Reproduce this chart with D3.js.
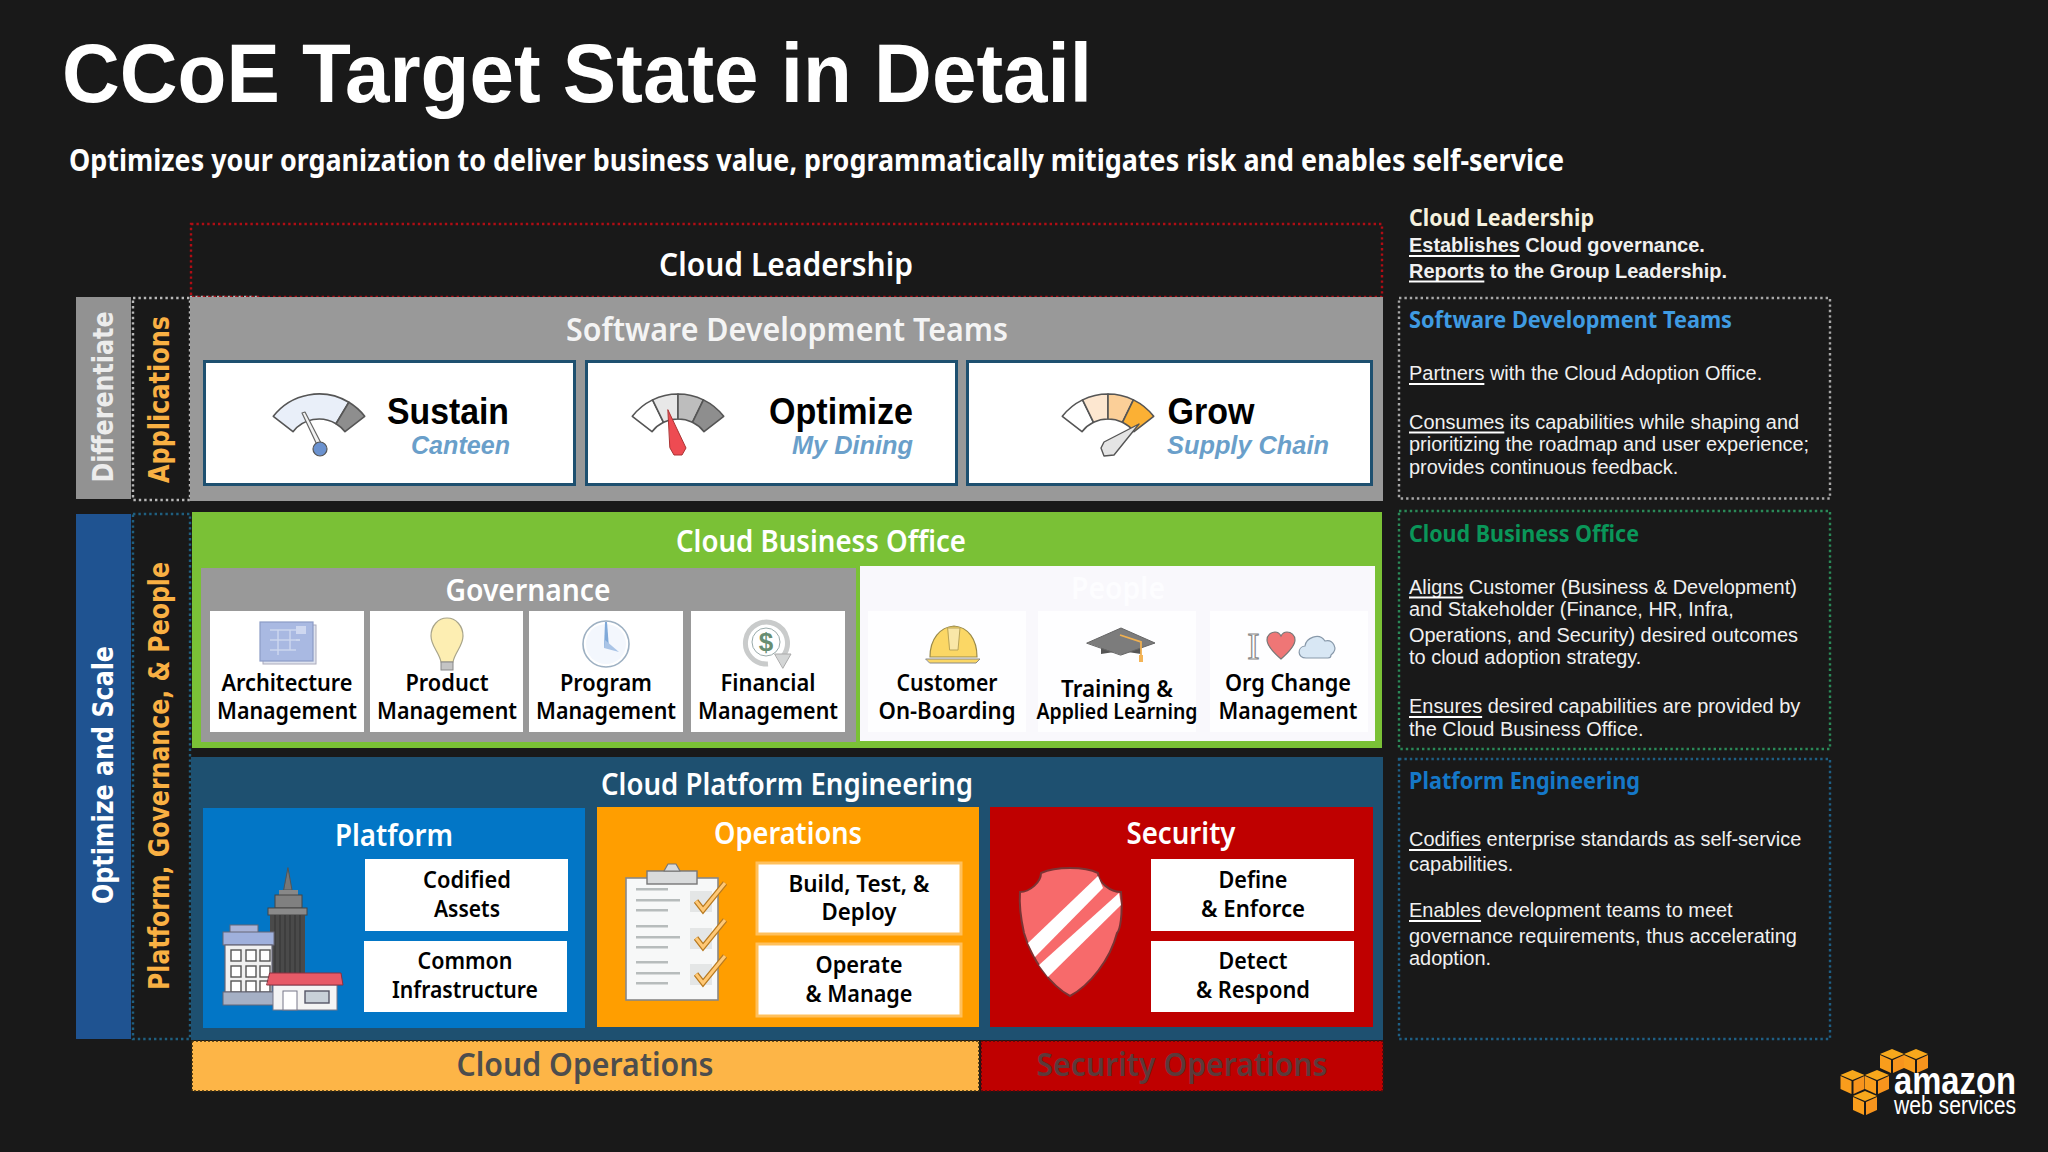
<!DOCTYPE html>
<html><head><meta charset="utf-8">
<script src="https://cdn.jsdelivr.net/npm/d3@7"></script>
<style>html,body{margin:0;padding:0;background:#191919}svg{display:block}</style>
</head><body><svg id="c" width="2048" height="1152"></svg>
<script>
// ---------- content ----------
const titleText = "CCoE Target State in Detail";
const subtitleText = "Optimizes your organization to deliver business value, programmatically mitigates risk and enables self-service";
const sideLabels = ["Differentiate","Applications","Optimize and Scale","Platform, Governance, & People"];
const panelTitles = ["Cloud Leadership","Software Development Teams","Cloud Business Office","Governance","People","Cloud Platform Engineering","Platform","Operations","Security","Cloud Operations","Security Operations"];
const maturity = ["Sustain","Optimize","Grow"];
const maturityApps = ["Canteen","My Dining","Supply Chain"];
const officeCards = [["Architecture","Management"],["Product","Management"],["Program","Management"],["Financial","Management"],["Customer","On-Boarding"],["Training &","Applied Learning"],["Org Change","Management"]];
const platformCards = [["Codified","Assets"],["Common","Infrastructure"],["Build, Test, &","Deploy"],["Operate","& Manage"],["Define","& Enforce"],["Detect","& Respond"]];
const notes = [
 {head:"Cloud Leadership",lines:[["Establishes"," Cloud governance."],["Reports"," to the Group Leadership."]]},
 {head:"Software Development Teams",lines:[["Partners"," with the Cloud Adoption Office."],["Consumes"," its capabilities while shaping and"],["","prioritizing the roadmap and user experience;"],["","provides continuous feedback."]]},
 {head:"Cloud Business Office",lines:[["Aligns"," Customer (Business & Development)"],["","and Stakeholder (Finance, HR, Infra,"],["","Operations, and Security) desired outcomes"],["","to cloud adoption strategy."],["Ensures"," desired capabilities are provided by"],["","the Cloud Business Office."]]},
 {head:"Platform Engineering",lines:[["Codifies"," enterprise standards as self-service"],["","capabilities."],["Enables"," development teams to meet"],["","governance requirements, thus accelerating"],["","adoption."]]}
];
const logoWords = ["amazon","web services"];

// ---------- layout ----------
const HEAD = "'Noto Sans',sans-serif", ARIAL = "'Liberation Sans',Arial,sans-serif", WIDE = "'DejaVu Sans',sans-serif";
const svg = d3.select("#c");
const bg = "#191919";
function rect(x0,y0,x1,y1,fill,o={}){
  return svg.append("rect").attr("x",x0).attr("y",y0).attr("width",x1-x0).attr("height",y1-y0)
    .attr("fill",fill).attr("stroke",o.stroke||"none").attr("stroke-width",o.sw||0).attr("stroke-dasharray",o.dash||null);
}
function dotted(x0,y0,x1,y1,color){
  return rect(x0,y0,x1,y1,"none",{stroke:color,sw:2.4,dash:"2.4 3"});
}
function label(t,x,y,o={}){
  const s = svg.append("text").attr("x",x).attr("y",y).text(t)
    .attr("font-family",o.font||HEAD).attr("font-size",o.size||24).attr("font-weight",o.weight||600)
    .attr("font-style",o.italic?"italic":null).attr("fill",o.fill||"#fff").attr("text-anchor",o.anchor||"middle");
  if(o.w) s.attr("textLength",o.w).attr("lengthAdjust","spacingAndGlyphs");
  if(o.rot) s.attr("transform",`rotate(-90 ${x} ${y})`);
  return s;
}
rect(0,0,2048,1152,bg);
label(titleText,62,102,{font:ARIAL,size:83,weight:700,anchor:"start",w:1030});
label(subtitleText,69,171,{size:29.5,weight:700,anchor:"start",w:1495});

// left bands
const bands = [{y0:297,y1:499,fill:"#929292",dot:"#b8b8b8",dy0:298,dy1:500},{y0:514,y1:1039,fill:"#1f5391",dot:"#1f5f80",dy0:514,dy1:1039}];
svg.selectAll("rect.band").data(bands).enter().append("rect").attr("x",76).attr("y",d=>d.y0).attr("width",55).attr("height",d=>d.y1-d.y0).attr("fill",d=>d.fill);
bands.forEach(b=>dotted(133,b.dy0,190,b.dy1,b.dot));
svg.append("line").attr("x1",190).attr("x2",258).attr("y1",297).attr("y2",297).attr("stroke","#b8b8b8").attr("stroke-width",2.4).attr("stroke-dasharray","2.4 3");
[[112.5,482.5,171,"#ececec"],[169,483,167,"#f9b043"],[112.5,904,258,"#fff"],[169,990,428,"#f9b043"]].forEach((p,i)=>
  label(sideLabels[i],p[0],p[1],{font:WIDE,size:27.5,weight:700,anchor:"start",fill:p[3],w:p[2],rot:true}));

// cloud leadership
dotted(191,224,1382,297,"#b00d14");
label(panelTitles[0],786,276,{size:32,w:254});

// SW dev teams panel
rect(190,297,1383,501,"#999999");
label(panelTitles[1],787,341,{size:32,fill:"#f4f4f4",w:442});
const cards3 = [[203,360,576,486],[585,360,958,486],[966,360,1373,486]];
cards3.forEach(c=>rect(c[0]+1.5,c[1]+1.5,c[2]-1.5,c[3]-1.5,"#fff",{stroke:"#1e5070",sw:3}));
const matLayout=[{x:387,w:122,sx:510,sw:99,anc:"end"},{x:769,w:144,sx:913,sw:121,anc:"end"},{x:1167.5,w:87,sx:1167,sw:162,anc:"start"}];
matLayout.forEach((m,i)=>{
  label(maturity[i],m.x,424,{font:ARIAL,size:36,weight:700,anchor:"start",fill:"#000",w:m.w});
  label(maturityApps[i],m.sx,454,{font:ARIAL,size:25.5,weight:700,italic:true,anchor:m.anc,fill:"#6a9fca",w:m.sw});
});
// gauges
const gaugeSegs=[
 {c:[319,452],segs:[[-52,31,"#e9eff9"],[31,52,"#8e8e8e"]]},
 {c:[678,452],segs:[[-52,-26,"#ffffff"],[-26,0,"#e8e8e8"],[0,26,"#bdbdbd"],[26,52,"#8e8e8e"]]},
 {c:[1108,452],segs:[[-52,-26,"#ffffff"],[-26,0,"#fde7d0"],[0,26,"#fbcf98"],[26,52,"#fbb034"]]}];
const rad=d=>d*Math.PI/180, arc=d3.arc().innerRadius(33).outerRadius(58);
gaugeSegs.forEach(g=>{
  svg.append("g").attr("transform",`translate(${g.c})`).selectAll("path").data(g.segs).enter().append("path")
   .attr("d",d=>arc({startAngle:rad(d[0]),endAngle:rad(d[1])})).attr("fill",d=>d[2]).attr("stroke","#555").attr("stroke-width",1.6).attr("stroke-linejoin","round");
});
const poly=(pts,fill,o={})=>svg.append("path").attr("d",d3.line().curve(o.curve||d3.curveLinearClosed)(pts)).attr("fill",fill).attr("stroke",o.stroke||"none").attr("stroke-width",o.sw||0).attr("stroke-linejoin","round").attr("stroke-linecap","round");
const circ=(x,y,r,fill,o={})=>svg.append("circle").attr("cx",x).attr("cy",y).attr("r",r).attr("fill",fill).attr("stroke",o.stroke||"none").attr("stroke-width",o.sw||0);
// needles
poly([[302,413],[305,412],[322,445],[318,447]],"#f2f2f2",{stroke:"#666",sw:1.2});
circ(320,449,7,"#6b92cf",{stroke:"#555",sw:1.2});
poly([[668,410],[686,448],[682,455],[674,455],[670,448]],"#ee4b52",{stroke:"#a33",sw:1});
poly([[1139,424],[1114,455],[1104,456],[1101,448],[1104,442]],"#e4e4e4",{stroke:"#555",sw:1.4});

// Cloud business office
rect(192,512,1382,748,"#7ac136");
label(panelTitles[2],821,552,{size:30,w:290});
rect(201,568,856,742,"#999999");
rect(860,566,1375,741,"#f9f8fc");
label(panelTitles[3],528,601,{size:31,fill:"#fff",w:165});
label(panelTitles[4],1118,599,{size:31,fill:"#fdfdff",w:94});
const oc=[[210,364,287,140],[370,523,447,140],[529,683,606,140],[691,845,768,140],[868,1026,947,137],[1038,1196,1117,161],[1210,1368,1288,139]];
oc.forEach((c,i)=>{
  rect(c[0],611,c[1],732,i>3?"#fefeff":"#fff");
  const tr=i==5;
  label(officeCards[i][0],c[2],tr?697:691,{size:24,fill:"#000",w:[131,83,92,95,101,112,126][i]});
  label(officeCards[i][1],c[2],tr?719:719,{size:tr?21.5:24,fill:"#000",w:c[3]});
});

// Cloud platform
rect(191,757,1383,1040,"#1e5070");
label(panelTitles[5],787,795,{size:31,w:372});
rect(203,808,585,1028,"#0276c6");
rect(597,807,979,1027,"#ff9e00");
rect(990,807,1373,1027,"#bf0000");
label(panelTitles[6],394,846,{size:31,w:118});
label(panelTitles[7],788,844,{size:31,w:148});
label(panelTitles[8],1181,844,{size:31,w:109});
const pc=[[365,859,568,931,467,888,917,88,66],[364,941,567,1012,465,969,998,95,146],[757,863,961,934,859,892,920,141,75],[757,944,961,1016,859,973,1002,87,107],[1151,859,1354,931,1253,888,917,69,104],[1151,941,1354,1012,1253,969,998,69,114]];
pc.forEach((c,i)=>{
  rect(c[0],c[1],c[2],c[3],"#fff",i==2||i==3?{stroke:"#ffc05c",sw:3}:{});
  label(platformCards[i][0],c[4],c[5],{size:24,fill:"#000",w:c[7]});
  label(platformCards[i][1],c[4],c[6],{size:24,fill:"#000",w:c[8]});
});
// bottom bars
rect(192,1041,979,1091,"#fdb547",{stroke:"#3a2c10",sw:1.6,dash:"2 2"});
rect(981,1041,1383,1091,"#bf0000",{stroke:"#4a0c0c",sw:1.6,dash:"2 2"});
label(panelTitles[9],585,1076,{size:32,fill:"#4d4d4d",w:257});
label(panelTitles[10],1182,1076,{size:32,fill:"#5b3a3a",w:291});

// ---------- right notes ----------
const noteLayout=[
 {hy:226,hw:185,hfill:"#f5f1de",ys:[252,277.5],bold:true},
 {hy:328,hw:323,hfill:"#3f9be2",ys:[380,428.6,451,474]},
 {hy:542,hw:230,hfill:"#0a9659",ys:[593.6,616,642,664,713,736]},
 {hy:789,hw:231,hfill:"#1578c8",ys:[846,871,917,943,965]}];
dotted(1399,298,1830,498.5,"#a8a8a8");
dotted(1399,511,1830,749,"#2a8a58");
dotted(1399,759,1830,1039,"#1e5f85");
notes.forEach((n,i)=>{
  const L=noteLayout[i];
  label(n.head,1409,L.hy,{size:23.5,weight:700,fill:L.hfill,anchor:"start",w:L.hw});
  n.lines.forEach((ln,j)=>{
    const t=label(ln[0]+ln[1],1409,L.ys[j],{font:ARIAL,size:19.95,weight:L.bold?700:400,fill:"#f0f0f0",anchor:"start"});
    if(ln[0]){
      const w=t.node().getSubStringLength(0,ln[0].length);
      svg.append("line").attr("x1",1409).attr("x2",1409+w).attr("y1",L.ys[j]+4).attr("y2",L.ys[j]+4).attr("stroke","#fff").attr("stroke-width",2);
    }
  });
});

// ---------- icons ----------
// blueprint
rect(263,625,316,664,"#dfe3ee",{stroke:"#aab",sw:1});
rect(260,622,313,661,"#a9b9e2",{stroke:"#8c9cc6",sw:1.2});
[[270,630,296,630],[270,640,300,640],[270,650,296,650],[278,630,278,655],[290,630,290,650],[296,640,300,640]].forEach(l=>svg.append("line").attr("x1",l[0]).attr("y1",l[1]).attr("x2",l[2]).attr("y2",l[3]).attr("stroke","#cfd8f0").attr("stroke-width",1.4));
rect(296,626,306,634,"#cfd8f0");
// bulb
svg.append("path").attr("d","M447 618c-9 0-16 8-16 18 0 10 8 16 10 26h12c2-10 10-16 10-26 0-10-7-18-16-18z").attr("fill","#fdeeb2").attr("stroke","#a8a48a").attr("stroke-width",1.2);
rect(441,662,453,670,"#c4c4c4",{stroke:"#888",sw:1});
// clock
circ(606,644,23,"#fff",{stroke:"#9db0c2",sw:1.6});
circ(606,644,20,"#f3f7fd");
poly([[605,622],[607,622],[609,648],[604,648]],"#7fa9d9");
poly([[605,640],[619,652],[604,648]],"#a9c4e6");
// dollar
svg.append("path").attr("d","M783 656A21 21 0 1 0 768 664").attr("fill","none").attr("stroke","#c9cbcb").attr("stroke-width",5);
circ(766,642,14,"#fff",{stroke:"#9aa",sw:1});
poly([[775,654],[791,654],[783,668]],"#d4d6d6",{stroke:"#aaa",sw:1});
label("$",766,651,{font:ARIAL,size:26,weight:700,fill:"#688e72"});
// helmet
svg.append("path").attr("d","M930 657c0-18 10-30 24-31 14 1 23 13 23 31z").attr("fill","#fbd765").attr("stroke","#9a8a4a").attr("stroke-width",1.2);
poly([[948,628],[960,628],[958,650],[950,650]],"#f9e7a8",{stroke:"#b9a45a",sw:1});
poly([[926,659],[980,659],[976,663],[930,663]],"#fbd765",{stroke:"#888",sw:1});
// grad cap
poly([[1101,642],[1141,642],[1141,654],[1121,651],[1101,654]],"#555");
poly([[1087,643],[1121,628],[1155,643],[1121,655]],"#7c7c7c",{stroke:"#666",sw:1});
svg.append("path").attr("d","M1120 635L1141 642V660").attr("fill","none").attr("stroke","#f0b050").attr("stroke-width",1.8);
rect(1139,655,1143,662,"#f4b456");
// I heart cloud
label("I",1253.5,659,{font:"'Liberation Serif',serif",size:37,weight:400,fill:"#fff"}).attr("stroke","#888").attr("stroke-width",1.2);
svg.append("path").attr("d","M1281 659c-8-7-14-13-14-19 0-5 4-8 8-8 3 0 5 2 6 4 1-2 3-4 6-4 4 0 8 3 8 8 0 6-6 12-14 19z").attr("fill","#ef7676").attr("stroke","#777").attr("stroke-width",1.2);
svg.append("path").attr("d","M1306 658c-9 0-9-11-1-12 1-8 14-14 20-5 8-2 14 8 6 14 0 2-1 3-3 3z").attr("fill","#d8e7f4").attr("stroke","#89a").attr("stroke-width",1.2);

// city
poly([[288,868],[292,890],[284,890]],"#777",{stroke:"#555",sw:1});
rect(279,890,298,895,"#888"); rect(275,895,302,908,"#808080",{stroke:"#444",sw:1}); rect(268,908,307,915,"#8a8a8a",{stroke:"#444",sw:1});
rect(270,915,305,975,"#4a4a4a");
d3.range(275,305,5).forEach(x=>svg.append("line").attr("x1",x).attr("x2",x).attr("y1",915).attr("y2",975).attr("stroke","#333").attr("stroke-width",1));
rect(230,925,258,935,"#aab4d8",{stroke:"#667",sw:1});
rect(223,932,274,945,"#9fb0dc",{stroke:"#667",sw:1});
rect(225,945,272,992,"#f0f0f0",{stroke:"#667",sw:1.2});
d3.cross([231,246,260],[950,966,981]).forEach(p=>rect(p[0],p[1],p[0]+10,p[1]+11,"#fff",{stroke:"#555",sw:1.4}));
rect(223,992,274,1005,"#a5b0c5",{stroke:"#667",sw:1});
rect(273,985,337,1010,"#f4f4f4",{stroke:"#778",sw:1});
rect(283,991,297,1010,"#fff",{stroke:"#778",sw:1});
rect(305,991,329,1003,"#c8d0d8",{stroke:"#556",sw:1.4});
poly([[270,973],[341,973],[343,985],[267,985]],"#e75a67",{stroke:"#8a3040",sw:1});

// clipboard
rect(626,878,718,1000,"#f7f8f8",{stroke:"#888",sw:1.6});
rect(647,871,697,884,"#d9dbdc",{stroke:"#777",sw:1.4});
poly([[664,871],[680,871],[676,864],[668,864]],"#d9dbdc",{stroke:"#777",sw:1.2});
[900,937,973].forEach(y=>{
  rect(690,y-9,712,y+12,"#e4e6e6");
  [-11,0,10].forEach((dy,i)=>rect(636,y+dy-1,i==1?680:668,y+dy+1.5,"#b7bcbc"));
  svg.append("path").attr("d",`M696 ${y+1}L703 ${y+10}L725 ${y-17}`).attr("fill","none").attr("stroke","#b87a20").attr("stroke-width",5.5);
  svg.append("path").attr("d",`M696 ${y+1}L703 ${y+10}L725 ${y-17}`).attr("fill","none").attr("stroke","#ffc875").attr("stroke-width",3);
});

// shield
svg.append("path").attr("d","M1070 868C1080 868 1090 869 1098 873C1098 882 1110 892 1121 892C1123 915 1120 930 1117 933C1110 960 1090 985 1070 996C1050 985 1032 960 1024 933C1020 915 1019 905 1020 892C1030 892 1041 882 1041 873C1050 869 1060 868 1070 868Z").attr("fill","#f76a6b").attr("stroke","#7a3434").attr("stroke-width",2);
poly([[1098,876],[1103,888],[1035,957],[1028,943]],"#fff");
poly([[1119,893],[1121,905],[1048,977],[1039,965]],"#fff");

// AWS logo
const cubes=[[1892,1049],[1916,1049],[1852.5,1070],[1877,1070],[1865,1091]];
const cubeFaces=[{pts:[[-12,5],[0,0],[12,5],[0,10]],f:"#f7a81c"},{pts:[[-12,6],[-1,11],[-1,24],[-12,19]],f:"#f99d1c"},{pts:[[12,6],[1,11],[1,24],[12,19]],f:"#f7941d"}];
svg.append("g").selectAll("g").data(cubes).enter().append("g").attr("transform",d=>`translate(${d})`)
  .selectAll("path").data(cubeFaces).enter().append("path").attr("d",d=>d3.line().curve(d3.curveLinearClosed)(d.pts)).attr("fill",d=>d.f);
label(logoWords[0],1894,1094,{font:ARIAL,size:39,weight:700,anchor:"start",w:122});
label(logoWords[1],1894,1114,{font:ARIAL,size:25,weight:400,anchor:"start",w:122});
</script></body></html>
